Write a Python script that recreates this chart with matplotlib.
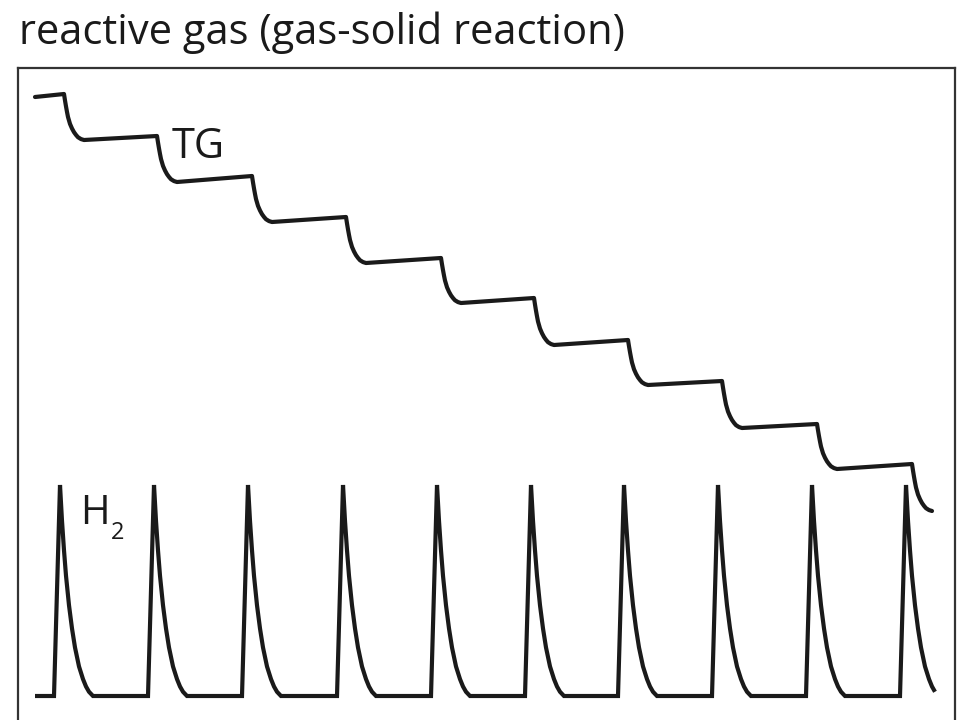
import numpy as np
import matplotlib
matplotlib.use('Agg')
import matplotlib.pyplot as plt

plt.rcParams['font.family'] = ['Open Sans', 'DejaVu Sans']

# values (x = time, y = signal position, downward)
# TG: start of the curve and each mass-loss step (top point of the step)
tg_start = (35, 97)
step_x = [64, 157, 252, 346, 441, 534, 628, 722, 817, 912]
step_top = [94, 136, 176, 217, 258, 298, 340, 381, 424, 464]
step_low = [140, 182, 222, 263, 303, 345, 385, 428, 469, 511]
tg_end_x = 935

# shape of one step, offsets after its start (read from the first step)
drop_dx = [0, 1, 2, 3, 4, 6, 8, 10, 12, 14, 17, 20]
drop_frac = [0, 0.14, 0.27, 0.39, 0.5, 0.65, 0.75, 0.83, 0.89, 0.94, 0.98, 1.0]

# H2 pulses
h2_start = 35
peak_x = [60, 154, 248, 343, 437, 531, 624, 718, 812, 906]
h2_end_x = 935
h2_base = 696
h2_peak = 485
rise_dx = 6
decay_dx = [0, 2, 4, 6, 9, 12, 15, 19, 23, 26, 29, 33]
decay_frac = [1, 0.83, 0.69, 0.57, 0.43, 0.32, 0.23, 0.14, 0.08, 0.045, 0.02, 0]


# build TG polyline
tg_x = [tg_start[0]]
tg_y = [tg_start[1]]
for i in range(len(step_x)):
    depth = step_low[i] - step_top[i]
    for dx, f in zip(drop_dx, drop_frac):
        xx = step_x[i] + dx
        if xx > tg_end_x:
            break
        tg_x.append(xx)
        tg_y.append(step_top[i] + f * depth)

# build H2 polyline
h2_x = [h2_start]
h2_y = [h2_base]
for p in peak_x:
    h2_x.append(p - rise_dx)
    h2_y.append(h2_base)
    for dx, f in zip(decay_dx, decay_frac):
        xx = p + dx
        if xx > h2_end_x:
            break
        h2_x.append(xx)
        h2_y.append(h2_base - f * (h2_base - h2_peak))

fig = plt.figure(figsize=(9.6, 7.2), dpi=100)
ax = fig.add_axes([18 / 960, 0, (955 - 18) / 960, (720 - 68) / 720])
ax.set_xlim(18, 955)
ax.set_ylim(720, 68)
ax.set_xticks([])
ax.set_yticks([])
for s in ['left', 'right', 'top']:
    ax.spines[s].set_linewidth(1.6)
    ax.spines[s].set_color('#333333')
ax.spines['bottom'].set_visible(False)

ax.plot(tg_x, tg_y, color='#1a1a1a', lw=3.0, solid_joinstyle='round', solid_capstyle='round')
ax.plot(h2_x, h2_y, color='#1a1a1a', lw=3.0, solid_joinstyle='miter', solid_capstyle='butt')

ax.text(172, 158, 'TG', fontsize=30, color='#1a1a1a', va='baseline', ha='left')
ax.text(80, 524, 'H', fontsize=29, color='#1a1a1a', va='baseline', ha='left')
ax.text(111, 539, '2', fontsize=17, color='#1a1a1a', va='baseline', ha='left')

fig.text(19 / 960, 1 - 44 / 720, 'reactive gas (gas-solid reaction)', fontsize=30,
         color='#1a1a1a', va='baseline', ha='left')

fig.savefig('out.png', dpi=100)
